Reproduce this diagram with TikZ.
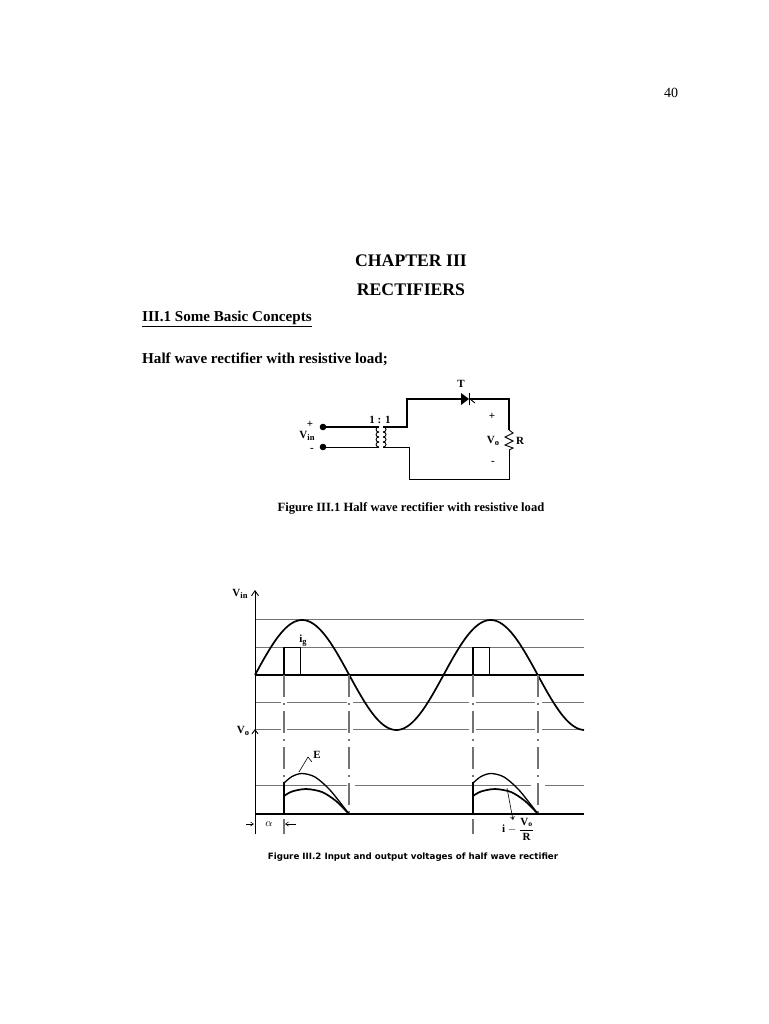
\documentclass[tikz,border=0pt]{standalone}
\usepackage{fontspec}
\setmainfont{Liberation Serif}
\setsansfont{DejaVu Sans}
\usetikzlibrary{arrows.meta}
\colorlet{fg}{black}
\colorlet{gridcol}{black!55}
\colorlet{dashcol}{black!55}
\newcommand{\lowtext}[1]{\raisebox{-2pt}{\fontsize{8.5}{9}\selectfont #1}}
\tikzset{
	wire/.style={fg,line width=1.3pt},
	thinwire/.style={fg,line width=.9pt},
	gridline/.style={gridcol,line width=1pt},
	zeroline/.style={fg,line width=1.6pt},
	wave/.style={fg,line width=1.7pt},
	marker/.style={dashcol,line width=1.1pt,dash pattern=on 22pt off 6pt on 2pt off 6pt},
	lbl/.style={font=\bfseries\fontsize{11}{12}\selectfont,inner sep=0pt},
	heading/.style={font=\bfseries\fontsize{17.7}{20}\selectfont,inner sep=0pt},
	subhead/.style={font=\bfseries\fontsize{15.1}{17}\selectfont,inner sep=0pt,anchor=west},
}
\begin{document}
\begin{tikzpicture}[x=1pt,y=-1pt]
	\useasboundingbox (0,0) rectangle (768,1024);
	\fill[white] (0,0) rectangle (768,1024);

	% page text
	\node[inner sep=0pt,font=\fontsize{14}{16}\selectfont] (page) at (671,93) {40};
	\node[heading] (chapter) at (411,261) {CHAPTER III};
	\node[heading] (title) at (411,290) {RECTIFIERS};
	\node[subhead] (section) at (142,319) {\underline{III.1 Some Basic Concepts}};
	\node[subhead] (halfwave) at (142,359) {Half wave rectifier with resistive load;};
	\node[inner sep=0pt,font=\bfseries\fontsize{12.6}{14}\selectfont] (capone) at (411,508) {Figure III.1 Half wave rectifier with resistive load};
	\node[inner sep=0pt,font=\sffamily\bfseries\fontsize{8.7}{10}\selectfont] (captwo) at (413,857) {Figure III.2 Input and output voltages of half wave rectifier};

	% circuit
	\coordinate (inp) at (323,427);
	\coordinate (inm) at (323,447);
	\coordinate (pa) at (379,427);
	\coordinate (pb) at (379,447);
	\coordinate (sa) at (383,427);
	\coordinate (sb) at (383,447);
	\coordinate (ta) at (407,427);
	\coordinate (tb) at (407,399);
	\coordinate (tc) at (461,399);
	\coordinate (td) at (469,399);
	\coordinate (te) at (509,399);
	\coordinate (ra) at (509,430);
	\coordinate (rb) at (509,450);
	\coordinate (ba) at (509,479);
	\coordinate (bb) at (409,479);
	\coordinate (bc) at (409,447);
	\fill[fg] (inp) circle (3.3pt) (inm) circle (3.3pt);
	\draw[wire] (inp) -- (pa);
	\draw[thinwire] (inm) -- (pb);
	\draw[wire] (sa) -- (ta) -- (tb) -- (tc);
	\draw[wire] (td) -- (te) -- (ra);
	\draw[thinwire] (rb) -- (ba) -- (bb) -- (bc) -- (sb);
	\fill[fg] (461,393) -- (469,399) -- (461,405) -- cycle;
	\draw[thinwire] (469.5,393) -- (469.5,405) (470,399) -- (475,403);
	\foreach \y in {427,432,437,442} {
		\draw[thinwire] (379,\y) arc[start angle=90,end angle=270,x radius=3pt,y radius=2.5pt];
		\draw[thinwire] (383,\y) arc[start angle=90,end angle=-90,x radius=3pt,y radius=2.5pt];
	}
	\draw[thinwire] (ra) -- (513,433) -- (505,437) -- (513,441) -- (505,445) -- (513,448) -- (rb);
	\node[lbl] (tlabel) at (461,384) {T};
	\node[lbl] (ratio) at (380,420) {1 : 1};
	\node[lbl] (plusin) at (310,424) {+};
	\node[lbl] (vin) at (307,436) {V\lowtext{in}};
	\node[lbl] (minusin) at (312,450) {-};
	\node[lbl] (plusout) at (492,416) {+};
	\node[lbl] (vout) at (493,441) {V\lowtext{o}};
	\node[lbl] (rlabel) at (520,441) {R};
	\node[lbl] (minusout) at (493,463) {-};

	% waveforms
	\coordinate (origin) at (255,675);
	\coordinate (top) at (255,590);
	\coordinate (bottom) at (255,834);
	\foreach \y in {619,647.5}
		\draw[gridline] (255,\y) -- (584,\y);
	\foreach \xa/\xb in {255/281,287/347,353/469,476/535,542/584} {
		\draw[gridline] (\xa,702.5) -- (\xb,702.5);
		\draw[gridline] (\xa,729) -- (\xb,729);
	}
	\foreach \xa/\xb in {255/347,355/531,545/584}
		\draw[gridline] (\xa,785.7) -- (\xb,785.7);
	\draw[thinwire,-{Straight Barb[length=5pt,width=7pt]}] (bottom) -- (top);
	\draw[thinwire,-{Straight Barb[length=4pt,width=6pt]}] (255,740) -- (255,729);
	\draw[zeroline] (origin) -- (584,675);
	\draw[zeroline] (255,814) -- (584,814);
	\draw[wave] plot[domain=255:584,samples=150,smooth] (\x,{675-55*sin((\x-255)/188.5*360)});
	\foreach \x in {0,189} {
		\draw[thinwire,line width=1.2pt] (284+\x,675) -- (284+\x,647.5) -- (300.5+\x,647.5) -- (300.5+\x,675);
		\draw[marker] (284+\x,675) -- (284+\x,834);
		\draw[marker] (350+\x-1,675) -- (350+\x-1,814);
		\draw[wire] (284+\x,782) -- (284+\x,814);
		\draw[wire] plot[smooth] coordinates {(284+\x,783) (292+\x,776.5) (302+\x,773.5) (315+\x,777) (330+\x,790) (349+\x,814)};
		\draw[wave] plot[smooth] coordinates {(284+\x,796) (292+\x,791.5) (306+\x,789) (322+\x,792) (336+\x,801) (349+\x,814)};
	}
	\node[lbl] (vinaxis) at (240,594) {V\lowtext{in}};
	\node[lbl] (voaxis) at (243,731) {V\lowtext{o}};
	\node[lbl] (gate) at (303,641) {i\lowtext{g}};
	\node[lbl] (emf) at (317,755) {E};
	\coordinate (ea) at (299,772);
	\coordinate (eb) at (308,757);
	\coordinate (ec) at (312,762);
	\draw[thinwire,line width=.6pt] (ea) -- (eb) -- (ec);
	\node[lbl] (alpha) at (269,824) {$\alpha$};
	\coordinate (la) at (246,824);
	\coordinate (lb) at (254,824);
	\coordinate (lc) at (296,824);
	\coordinate (ld) at (285,824);
	\draw[thinwire,line width=.6pt,-{Straight Barb[length=3pt,width=4pt]}] (la) -- (lb);
	\draw[thinwire,line width=.6pt,-{Straight Barb[length=3pt,width=4pt]}] (lc) -- (ld);
	\node[lbl] (current) at (518,829) {i $-$ $\displaystyle\frac{\mathbf{V_o}}{\mathbf{R}}$};
	\coordinate (ia) at (507,788);
	\coordinate (ib) at (513,820);
	\draw[thinwire,line width=.6pt,-{Straight Barb[length=3pt,width=4pt]}] (ia) -- (ib);
\end{tikzpicture}
\end{document}
